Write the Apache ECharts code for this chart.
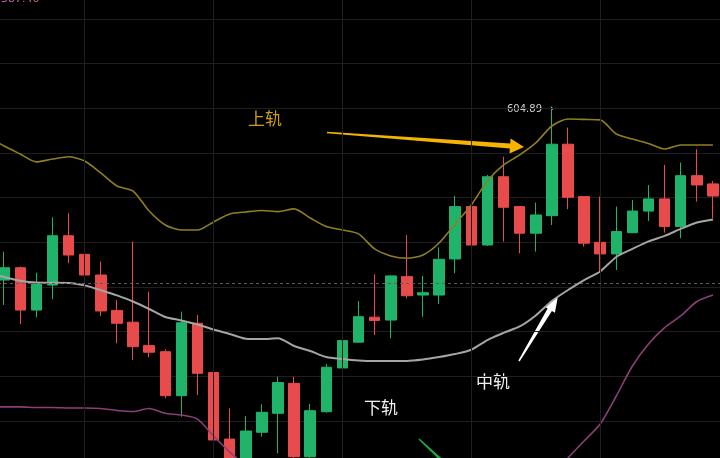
<!DOCTYPE html>
<html><head><meta charset="utf-8">
<script src="https://cdn.jsdelivr.net/npm/echarts@6/dist/echarts.min.js"></script>
<style>
html,body{margin:0;padding:0;background:#000;overflow:hidden;width:720px;height:458px}
#c{position:absolute;left:-20px;top:0;width:741px;height:470px}
</style>
</head><body><div id="c"></div>
<script>
// T00 lies just left of the visible area (only its band values reach the left edge)
const categories = ['T00','T01','T02','T03','T04','T05','T06','T07','T08','T09','T10','T11','T12','T13','T14','T15','T16','T17','T18','T19','T20','T21','T22','T23','T24','T25','T26','T27','T28','T29','T30','T31','T32','T33','T34','T35','T36','T37','T38','T39','T40','T41','T42','T43','T44','T45'];
const opens  = ['-',595.39,596.08,593.71,595.11,597.87,596.83,595.67,593.69,593.03,591.72,591.38,588.92,592.97,590.22,586.49,585.15,586.87,587.93,589.61,585.50,588.02,590.47,591.91,593.31,593.15,595.58,594.55,594.55,596.57,599.50,597.35,601.17,599.50,598.01,598.99,602.99,600.06,597.50,596.85,598.04,599.25,599.93,598.38,601.23,600.77];
const closes = ['-',596.08,593.71,595.17,597.87,596.79,595.67,593.66,592.97,591.66,591.35,588.92,593.00,590.17,586.44,584.87,586.94,587.99,589.65,585.50,588.08,590.51,592.00,593.34,593.12,595.62,594.51,594.68,596.55,599.50,597.35,601.17,599.46,598.01,599.03,602.99,600.02,597.45,596.85,598.10,599.25,599.93,598.38,601.23,600.71,600.09];
const lows   = ['-',593.99,592.93,593.31,594.31,596.33,594.98,593.38,591.85,590.92,591.07,588.77,587.74,588.96,586.06,584.48,584.87,586.62,585.69,585.32,585.21,587.97,589.57,591.87,592.31,592.13,594.37,593.34,594.05,595.77,596.89,597.30,597.54,596.89,596.98,598.47,599.35,597.26,595.86,595.95,598.02,598.70,598.04,597.73,599.78,598.85];
const highs  = ['-',596.98,596.15,595.80,598.90,599.13,597.17,596.42,594.27,597.54,594.74,591.51,593.62,593.43,592.76,588.21,587.78,588.44,589.98,589.98,588.45,590.69,592.26,594.22,595.71,595.67,597.91,595.62,597.22,600.09,599.59,601.27,602.29,599.53,599.72,604.89,603.92,600.09,600.06,599.50,599.87,600.71,601.83,601.96,602.71,600.93];
const upperBand  = [603.40,602.89,602.44,602.00,602.16,602.29,602.05,601.38,600.65,600.37,599.25,598.47,598.19,598.19,598.64,599.09,599.20,599.28,599.22,599.37,598.86,598.38,598.19,597.97,597.13,596.74,596.61,596.79,597.46,598.53,599.59,600.93,601.83,602.39,603.06,604.01,604.40,604.38,604.35,603.56,603.28,603.03,602.72,602.95,602.95,602.95];
const middleBand = [595.76,595.56,595.35,595.25,595.24,595.23,595.09,594.82,594.53,594.19,593.77,593.32,593.13,592.90,592.62,592.37,592.11,592.09,592.13,591.70,591.42,591.08,590.97,590.89,590.86,590.86,590.86,590.94,591.08,591.25,591.49,592.03,592.43,592.79,593.41,594.22,594.83,595.39,595.87,596.68,597.13,597.55,597.86,598.25,598.61,598.78];
const lowerBand  = [588.30,588.29,588.29,588.26,588.26,588.23,588.23,588.20,588.09,588.03,588.20,587.93,587.84,587.61,586.66,585.77,585.04,584.90,585.04,584.03,583.98,583.81,583.75,583.81,584.59,584.98,585.10,585.10,584.70,583.98,583.42,583.14,583.02,583.19,583.75,584.37,585.43,586.38,587.33,588.90,590.58,591.81,592.73,593.38,594.19,594.55];
const lastPrice = 595.23;
const peakLabel = '604.89 \u2192';
const topLabel = '587.40';
const gridMarks = ['T06','T14','T22','T30','T38'];
const yTicks = {min: 585, max: 611.06, interval: 2.5};

const UP = '#1fb46a', DOWN = '#e84b4b', GRIDC = '#1f1f1f';
const OX = 20; // container is shifted left by 20px
const CJK = '"Noto Sans CJK SC", "Noto Sans", sans-serif';

function arrowPoints(x0,y0,x1,y1,w0,w1,hl,hw){
  x0+=OX; x1+=OX;
  const dx=x1-x0, dy=y1-y0, L=Math.hypot(dx,dy), ux=dx/L, uy=dy/L, nx=-uy, ny=ux;
  const bx=x1-ux*hl, by=y1-uy*hl;
  return [[x0+nx*w0/2,y0+ny*w0/2],[bx+nx*w1/2,by+ny*w1/2],[bx+nx*hw/2,by+ny*hw/2],[x1,y1],
          [bx-nx*hw/2,by-ny*hw/2],[bx-nx*w1/2,by-ny*w1/2],[x0-nx*w0/2,y0-ny*w0/2]];
}

const chart = echarts.init(document.getElementById('c'), null, {renderer:'canvas'});
const kdata = categories.map((c,i)=>[opens[i],closes[i],lows[i],highs[i]]);

chart.setOption({
  backgroundColor: '#000',
  animation: false,
  grid: {left:0, right:0, top:0, bottom:4.3},
  xAxis: {type:'category', data:categories, boundaryGap:true,
    axisLine:{show:false}, axisTick:{show:false}, axisLabel:{show:false}, splitLine:{show:false}},
  yAxis: {type:'value', min:yTicks.min, max:yTicks.max, interval:yTicks.interval, scale:true,
    axisLine:{show:false}, axisTick:{show:false}, axisLabel:{show:false},
    splitLine:{show:true, showMinLine:false, showMaxLine:false, lineStyle:{color:GRIDC, width:1}}},
  series: [
    {type:'line', data:[], z:1, silent:true,
      markLine:{silent:true, symbol:['none','none'], label:{show:false}, animation:false,
        data:[
          ...gridMarks.map(m=>({xAxis:m, lineStyle:{color:GRIDC, width:1, type:'solid'}})),
          {yAxis:lastPrice, lineStyle:{color:'#5c5c5c', width:1, type:[3,3]}}
        ]}},
    {type:'candlestick', data:kdata, barWidth:11, z:2,
      itemStyle:{color:UP, color0:DOWN, borderColor:UP, borderColor0:DOWN, borderWidth:1}},
    {type:'line', data:upperBand, symbol:'none', smooth:0.25, z:3,
      lineStyle:{color:'#8f7f22', width:1.6}},
    {type:'line', data:middleBand, symbol:'none', smooth:0.25, z:3,
      lineStyle:{color:'#a5a5a5', width:2}},
    {type:'line', data:lowerBand, symbol:'none', smooth:0.25, z:3,
      lineStyle:{color:'#8a3f78', width:1.6}}
  ],
  graphic: [
    {type:'text', x:1+OX, y:-6, style:{text:topLabel, fill:'#c965a6', font:'11px "DejaVu Sans", sans-serif'}},
    {type:'text', x:507+OX, y:104, style:{text:peakLabel, fill:'#d0d0d0', font:'10px "DejaVu Sans", sans-serif'}},
    {type:'text', x:248+OX, y:110, style:{text:'上轨', fill:'#cf9d14', font:'17px '+CJK}},
    {type:'text', x:476+OX, y:373, style:{text:'中轨', fill:'#f0f0f0', font:'17px '+CJK}},
    {type:'text', x:364+OX, y:399, style:{text:'下轨', fill:'#f0f0f0', font:'17px '+CJK}},
    {type:'polygon', shape:{points:arrowPoints(327,132.5,524,147,1.5,5,14,15)}, style:{fill:'#f5b400'}},
    {type:'polygon', shape:{points:arrowPoints(519,361,558,296,1.5,5,16,12)}, style:{fill:'#ffffff'}},
    {type:'polygon', shape:{points:arrowPoints(419,439,452,470,1.5,3,10,10)}, style:{fill:'#1fa84a'}}
  ]
});
</script>
</body></html>
